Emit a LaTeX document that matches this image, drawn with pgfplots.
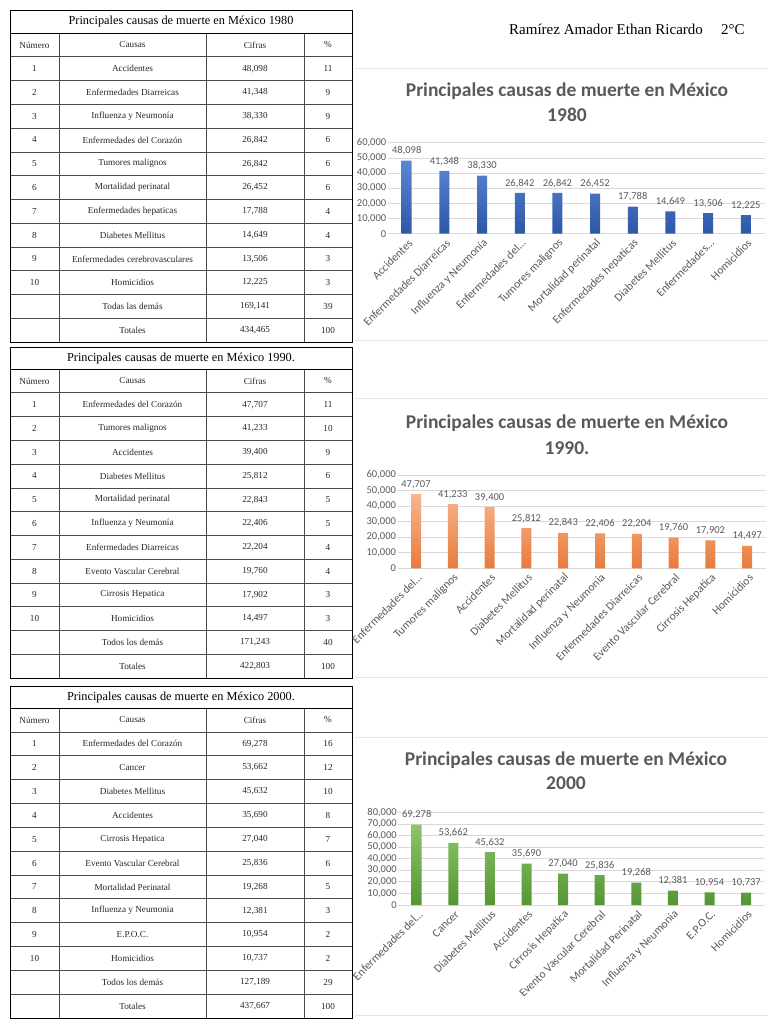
\documentclass[border=0pt]{standalone}
\usepackage{fontspec}
\setmainfont{Liberation Serif}
\newfontfamily\calibri{Carlito}
\usepackage{pgfplots}
\pgfplotsset{compat=1.18}
\definecolor{tg}{HTML}{595959}
\definecolor{gridc}{HTML}{D9D9D9}
\definecolor{frame}{HTML}{E4E4E4}
\definecolor{bluet}{HTML}{5A86D6}
\definecolor{blueb}{HTML}{2E57A6}
\definecolor{oranget}{HTML}{F6B58F}
\definecolor{orangeb}{HTML}{E97B3C}
\definecolor{greent}{HTML}{8DC46C}
\definecolor{greenb}{HTML}{559632}
\newcommand{\tabfont}{\fontsize{9.2}{10}\selectfont}
\newcommand{\lblfont}{\calibri\fontsize{10.5}{12}\selectfont}
\newcommand{\xlblfont}{\calibri\fontsize{11.6}{13}\selectfont}
\newcommand{\titfont}{\calibri\bfseries\fontsize{19.5}{23}\selectfont}

\newcommand{\drawtable}[4]{%
  \pgfmathsetmacro{\rh}{(#3-#2)/13}%
  \def\tb{#2}%
  \foreach \i in {1,...,12} \draw[line width=0.6pt,black!70] (10,#2+\i*\rh) -- (352,#2+\i*\rh);
  \foreach \x in {59,206,304} \draw[line width=0.6pt,black!70] (\x,#2) -- (\x,#3);
  \draw[line width=0.9pt] (10,#1) rectangle (352,#3);
  \draw[line width=0.9pt] (10,#2) -- (352,#2);
  \node[font=\fontsize{12.3}{14}\selectfont] at (181,{(#1+#2)/2+0.5}) {#4};
}
\newcommand{\trow}[5]{%
  \node[font=\tabfont,text=black!85] at (34.5,{\tb+(#1+0.5)*\rh}) {#2};
  \node[font=\tabfont,text=black!85] at (132.5,{\tb+(#1+0.5)*\rh}) {#3};
  \node[font=\tabfont,text=black!85] at (255,{\tb+(#1+0.5)*\rh}) {#4};
  \node[font=\tabfont,text=black!85] at (328,{\tb+(#1+0.5)*\rh}) {#5};
}

\pgfplotsset{
  chart/.style={
    scale only axis, clip=false,
    xmin=-0.5, xmax=9.5, ymin=0,
    xtick={0,...,9},
    axis line style={draw=none},
    tick style={draw=none},
    ymajorgrids, grid style={color=gridc, line width=0.7pt},
    yticklabel style={font=\lblfont, text=tg, inner sep=1.5pt},
    xticklabel style={font=\xlblfont, text=tg, rotate=45, anchor=east, inner sep=1pt, yshift=-5pt, xshift=1.5pt},
    scaled y ticks=false,
    /pgf/number format/.cd, fixed, precision=0, 1000 sep={,}, assume math mode=true,
    /pgfplots/.cd,
    nodes near coords,
    every node near coord/.append style={font=\lblfont, text=tg, yshift=2pt},
    ybar, bar width=10pt,
  }
}

\begin{document}
\begin{tikzpicture}
\useasboundingbox (0pt,0pt) rectangle (768pt,-1024pt);
\begin{scope}[x=1pt,y=-1pt]
  % header
  \node[anchor=base west,inner sep=0,font=\fontsize{15}{17}\selectfont] at (509,35) {Ramírez Amador Ethan Ricardo};
  \node[anchor=base west,inner sep=0,font=\fontsize{15}{17}\selectfont] at (721,35) {2°C};

  % chart frames
  \foreach \yy in {68,340,398,677,737,1015} \draw[frame,line width=0.8pt] (355,\yy) -- (768,\yy);

  % Table 1980
  \drawtable{10}{33}{342}{Principales causas de muerte en México 1980}
  \trow{0}{Número}{Causas}{Cifras}{\%}
  \trow{1}{1}{Accidentes}{48,098}{11}
  \trow{2}{2}{Enfermedades Diarreicas}{41,348}{9}
  \trow{3}{3}{Influenza y Neumonía}{38,330}{9}
  \trow{4}{4}{Enfermedades del Corazón}{26,842}{6}
  \trow{5}{5}{Tumores malignos}{26,842}{6}
  \trow{6}{6}{Mortalidad perinatal}{26,452}{6}
  \trow{7}{7}{Enfermedades hepaticas}{17,788}{4}
  \trow{8}{8}{Diabetes Mellitus}{14,649}{4}
  \trow{9}{9}{Enfermedades cerebrovasculares}{13,506}{3}
  \trow{10}{10}{Homicidios}{12,225}{3}
  \trow{11}{}{Todas las demás}{169,141}{39}
  \trow{12}{}{Totales}{434,465}{100}

  % Table 1990
  \drawtable{347}{369}{678}{Principales causas de muerte en México 1990.}
  \trow{0}{Número}{Causas}{Cifras}{\%}
  \trow{1}{1}{Enfermedades del Corazón}{47,707}{11}
  \trow{2}{2}{Tumores malignos}{41,233}{10}
  \trow{3}{3}{Accidentes}{39,400}{9}
  \trow{4}{4}{Diabetes Mellitus}{25,812}{6}
  \trow{5}{5}{Mortalidad perinatal}{22,843}{5}
  \trow{6}{6}{Influenza y Neumonía}{22,406}{5}
  \trow{7}{7}{Enfermedades Diarreicas}{22,204}{4}
  \trow{8}{8}{Evento Vascular Cerebral}{19,760}{4}
  \trow{9}{9}{Cirrosis Hepatica}{17,902}{3}
  \trow{10}{10}{Homicidios}{14,497}{3}
  \trow{11}{}{Todos los demás}{171,243}{40}
  \trow{12}{}{Totales}{422,803}{100}

  % Table 2000
  \drawtable{686}{708}{1018}{Principales causas de muerte en México 2000.}
  \trow{0}{Número}{Causas}{Cifras}{\%}
  \trow{1}{1}{Enfermedades del Corazón}{69,278}{16}
  \trow{2}{2}{Cancer}{53,662}{12}
  \trow{3}{3}{Diabetes Mellitus}{45,632}{10}
  \trow{4}{4}{Accidentes}{35,690}{8}
  \trow{5}{5}{Cirrosis Hepatica}{27,040}{7}
  \trow{6}{6}{Evento Vascular Cerebral}{25,836}{6}
  \trow{7}{7}{Mortalidad Perinatal}{19,268}{5}
  \trow{8}{8}{Influenza y Neumonia}{12,381}{3}
  \trow{9}{9}{E.P.O.C.}{10,954}{2}
  \trow{10}{10}{Homicidios}{10,737}{2}
  \trow{11}{}{Todos los demás}{127,189}{29}
  \trow{12}{}{Totales}{437,667}{100}

  % chart titles
  \node[font=\titfont,text=tg] at (567,91) {Principales causas de muerte en México};
  \node[font=\titfont,text=tg] at (567,115) {1980};
  \node[font=\titfont,text=tg] at (567,423) {Principales causas de muerte en México};
  \node[font=\titfont,text=tg] at (567,448) {1990.};
  \node[font=\titfont,text=tg] at (566,760) {Principales causas de muerte en México};
  \node[font=\titfont,text=tg] at (566,783) {2000};
\end{scope}

% Chart 1980
\begin{axis}[chart, at={(387.9pt,-233.7pt)}, anchor=south west,
  width=376.7pt, height=91pt, ymax=60000, ytick={0,10000,...,60000},
  xticklabels={Accidentes,Enfermedades Diarreicas,Influenza y Neumonía,Enfermedades del…,Tumores malignos,Mortalidad perinatal,Enfermedades hepaticas,Diabetes Mellitus,Enfermedades…,Homicidios}]
\addplot[draw=none, top color=bluet, bottom color=blueb] coordinates {
(0,48098) (1,41348) (2,38330) (3,26842) (4,26842) (5,26452) (6,17788) (7,14649) (8,13506) (9,12225)};
\end{axis}

% Chart 1990
\begin{axis}[chart, at={(397.6pt,-568.3pt)}, anchor=south west,
  width=368pt, height=93.3pt, ymax=60000, ytick={0,10000,...,60000},
  xticklabels={Enfermedades del…,Tumores malignos,Accidentes,Diabetes Mellitus,Mortalidad perinatal,Influenza y Neumonia,Enfermedades Diarreicas,Evento Vascular Cerebral,Cirrosis Hepatica,Homicidios}]
\addplot[draw=none, top color=oranget, bottom color=orangeb] coordinates {
(0,47707) (1,41233) (2,39400) (3,25812) (4,22843) (5,22406) (6,22204) (7,19760) (8,17902) (9,14497)};
\end{axis}

% Chart 2000
\begin{axis}[chart, at={(398.4pt,-905pt)}, anchor=south west,
  width=366pt, height=92.7pt, ymax=80000, ytick={0,10000,...,80000},
  xticklabels={Enfermedades del…,Cancer,Diabetes Mellitus,Accidentes,Cirrosis Hepatica,Evento Vascular Cerebral,Mortalidad Perinatal,Influenza y Neumonia,E.P.O.C.,Homicidios}]
\addplot[draw=none, top color=greent, bottom color=greenb] coordinates {
(0,69278) (1,53662) (2,45632) (3,35690) (4,27040) (5,25836) (6,19268) (7,12381) (8,10954) (9,10737)};
\end{axis}
\end{tikzpicture}
\end{document}
